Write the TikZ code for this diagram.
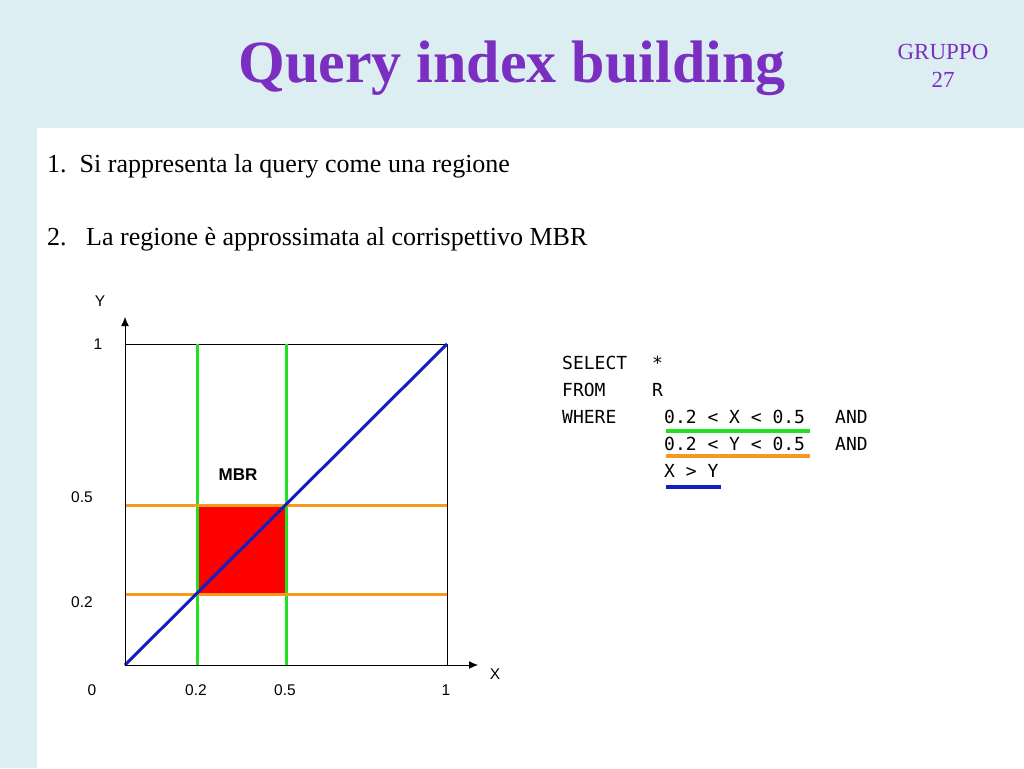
\documentclass[tikz,border=0pt]{standalone}
\usepackage{fontspec}
\usetikzlibrary{arrows.meta}
\setmainfont{Liberation Serif}
\newfontfamily\lsans{Liberation Sans}
\newfontfamily\lmono{DejaVu Sans Mono}
\definecolor{bgblue}{HTML}{DDEEF2}
\definecolor{titlep}{HTML}{7A2FC0}
\definecolor{gline}{HTML}{22E022}
\definecolor{oline}{HTML}{F59A1A}
\definecolor{bline}{HTML}{1020C0}
\begin{document}
\begin{tikzpicture}[x=1pt,y=-1pt,
  lab/.style={font=\lsans\fontsize{15.5}{18}\selectfont,inner sep=0pt},
  sql/.style={font=\lmono\fontsize{18}{20}\selectfont,inner sep=0pt,anchor=west},
  body/.style={font=\fontsize{26}{30}\selectfont,inner sep=0pt,anchor=west}]
\useasboundingbox (0,0) rectangle (1024,768);
\fill[bgblue] (0,0) rectangle (1024,768);
\fill[white] (37,128) rectangle (1024,768);
\node[text=titlep,font=\fontsize{60}{66}\selectfont\bfseries] (title) at (512,68) {Query index building};
\node[text=titlep,font=\fontsize{23}{28}\selectfont,align=center] (grp) at (943,66) {GRUPPO\\27};
\node[body] (l1) at (47,166) {1.\ \ Si rappresenta la query come una regione};
\node[body] (l2) at (47,239) {2.\ \ \ La regione è approssimata al corrispettivo MBR};
% plot
\fill[red] (197,505) rectangle (286,594);
\draw[line width=0.8pt] (197,505) rectangle (286,594);
\draw[line width=0.8pt] (125,344) -- (447,344) -- (447,665);
\draw[gline,line width=3pt] (197,344) -- (197,665) (286,344) -- (286,665);
\draw[oline,line width=3pt] (125,505) -- (447,505) (125,594) -- (447,594);
\draw[bline,line width=3pt] (125,665) -- (447,344);
\coordinate (o) at (125,665);
\coordinate (xe) at (478,665);
\coordinate (ye) at (125,317);
\draw[-{Latex[length=9pt,width=8pt]},line width=1pt] (o) -- (xe);
\draw[-{Latex[length=9pt,width=8pt]},line width=1pt] (o) -- (ye);
\node[lab] (ly) at (100,301) {Y};
\node[lab] (lx) at (495,674) {X};
\node[lab] (y1) at (98,344) {1};
\node[lab] (y05) at (82,497) {0.5};
\node[lab] (y02) at (82,602) {0.2};
\node[lab] (x0) at (92,690) {0};
\node[lab] (x02) at (196,690) {0.2};
\node[lab] (x05) at (285,690) {0.5};
\node[lab] (x1) at (446,690) {1};
\node[lab,font=\lsans\bfseries\fontsize{17}{19}\selectfont] (mbr) at (238,475) {MBR};
% SQL
\node[sql] (s1) at (562,363) {SELECT};
\node[sql] (s1b) at (652,363) {*};
\node[sql] (s2) at (562,390) {FROM};
\node[sql] (s2b) at (652,390) {R};
\node[sql] (s3) at (562,417) {WHERE};
\node[sql] (c1) at (664,417) {0.2 < X < 0.5};
\node[sql] (a1) at (835,417) {AND};
\node[sql] (c2) at (664,444) {0.2 < Y < 0.5};
\node[sql] (a2) at (835,444) {AND};
\node[sql] (c3) at (664,471) {X > Y};
\draw[gline,line width=3.5pt] (666,431) -- (810,431);
\draw[oline,line width=3.5pt] (666,456) -- (810,456);
\draw[bline,line width=3.5pt] (666,487) -- (721,487);
\end{tikzpicture}
\end{document}
